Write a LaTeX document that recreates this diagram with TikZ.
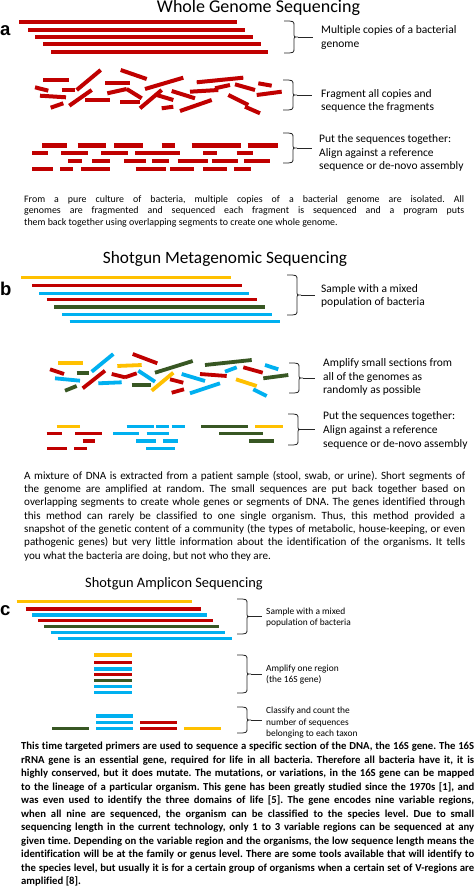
\documentclass[tikz,border=0pt]{standalone}
\usepackage{fontspec}
\setmainfont{Carlito}[Ligatures=NoCommon]
\newfontfamily\labelfont{Liberation Sans}
\definecolor{cred}{HTML}{C00000}
\definecolor{cblue}{HTML}{00B0F0}
\definecolor{cyel}{HTML}{FFC000}
\definecolor{cgrn}{HTML}{385723}
\newcommand{\brc}[4]{%
 \pgfmathsetmacro{\bm}{(#2+#3)/2}%
 \pgfmathsetmacro{\bx}{#1+10}%
 \pgfmathsetmacro{\bt}{#1+14}%
 \draw[bracepen] (#1,#2) .. controls (\bx,#2) .. (\bx,#2+5) -- (\bx,\bm-4) .. controls (\bx,\bm) .. (\bt,\bm) .. controls (\bx,\bm) .. (\bx,\bm+4) -- (\bx,#3-5) .. controls (\bx,#3) .. (#1,#3);%
 \draw[bracepen] (\bt,\bm) -- (#4,\bm);}
\begin{document}
\frenchspacing
\begin{tikzpicture}[x=1pt,y=-1pt,
 rd/.style={draw=cred,line width=#1,line cap=butt}, rd/.default=4pt,
 bl/.style={draw=cblue,line width=#1,line cap=butt}, bl/.default=3.5pt,
 ye/.style={draw=cyel,line width=#1,line cap=butt}, ye/.default=3.5pt,
 gr/.style={draw=cgrn,line width=#1,line cap=butt}, gr/.default=3.5pt,
 bracepen/.style={draw=black!85,line width=0.8pt},
 ttl/.style={font=\fontsize{#1}{#1}\selectfont,anchor=base,inner sep=0pt},
 lbl/.style={font=\labelfont\bfseries\fontsize{18.5}{20}\selectfont,anchor=base west,inner sep=0pt},
 note/.style={font=\fontsize{11.5}{13.8}\selectfont,align=left,anchor=west,inner sep=0pt},
 notec/.style={font=\fontsize{9.4}{11.6}\selectfont,align=left,anchor=west,inner sep=0pt},
 pla/.style={font=\fontsize{9.9}{11.5}\selectfont,anchor=base west,inner sep=0pt},
 plb/.style={font=\fontsize{11.1}{13.3}\selectfont,anchor=base west,inner sep=0pt},
 plc/.style={font=\bfseries\fontsize{10.7}{13.5}\selectfont,anchor=base west,inner sep=0pt}]
\useasboundingbox (0,0) rectangle (474,889);
\fill[white] (0,0) rectangle (474,889);

% ---------------- Panel a ----------------
\node[ttl=18] (ta) at (258.5,12.5) {Whole Genome Sequencing};
\node[lbl] (la) at (0,35) {a};
\draw[rd] (19,21.5) -- (237,21.5);
\draw[rd] (28,30) -- (245,30);
\draw[rd] (35,36.5) -- (253,36.5);
\draw[rd] (43,44) -- (261,44);
\draw[rd] (51,52) -- (268,52);
\brc{284}{21}{53}{313}
\node[note] (na1) at (321,37.5) {Multiple copies of a bacterial\\genome};

\draw[rd] (43.3,80) -- (69.3,80);
\draw[rd] (35,87.3) -- (48.3,90.7);
\draw[rd] (61.7,90) -- (75,90);
\draw[rd] (40,95.7) -- (66,97.3);
\draw[rd] (50.7,107.7) -- (63.3,103.3);
\draw[rd] (76.7,90) -- (100.7,70);
\draw[rd] (69.3,105.7) -- (91.7,90);
\draw[rd] (85,100) -- (110,100);
\draw[rd] (105,83.3) -- (130,83.3);
\draw[rd] (107.3,93.3) -- (126.7,89);
\draw[rd] (126.7,89) -- (141.7,98.3);
\draw[rd] (120.7,70) -- (146.7,79);
\draw[rd] (120,102.3) -- (140,102.3);
\draw[rd] (145,89) -- (183.3,77.7);
\draw[rd] (140,108.3) -- (161.7,90);
\draw[rd] (156.7,95) -- (173.3,100);
\draw[rd] (161.7,108.3) -- (173.3,106.7);
\draw[rd] (171.7,91) -- (195,98.3);
\draw[rd] (180,111) -- (211.7,100);
\draw[rd] (190,91.7) -- (218.3,90);
\draw[rd] (196.7,82.3) -- (243.3,77.7);
\draw[rd] (215,88.3) -- (230,85);
\draw[rd] (228.3,95) -- (248.3,105);
\draw[rd] (245,106.7) -- (260,113.3);
\draw[rd] (235,84.3) -- (255,90);
\draw[rd] (258.3,83.3) -- (271.7,85.7);
\draw[rd] (256.7,95) -- (281.7,91.7);
\brc{283}{80}{110}{312}
\node[note] (na2) at (321,101) {Fragment all copies and\\sequence the fragments};

\foreach \a/\b in {42.3/66.7,77.7/105.7,114.3/143.3,161.7/175,191.7/241,247.7/277.7}
  \draw[rd=4.2pt] (\a,145.5) -- (\b,145.5);
\foreach \a/\b in {32.3/47.7,61/88.3,101/127.7,135/180,203.3/216.7,236.7/253.3}
  \draw[rd=4.2pt] (\a,153) -- (\b,153);
\foreach \a/\b in {68.3/82.3,92.3/110,124.3/145.7,152.3/169,177.7/207.7,211.7/237.7,244.3/270}
  \draw[rd=4.2pt] (\a,161) -- (\b,161);
\foreach \a/\b in {32.3/53.3,60/73.3,81/110,135.7/165.7,170.3/194.3,203.3/226.7,234.3/250.7}
  \draw[rd=4.2pt] (\a,169) -- (\b,169);
\brc{283}{133}{163}{312}
\node[note] (na3) at (319,153) {Put the sequences together:\\Align against a reference\\sequence or de-novo assembly};

\node[pla] (pa1) at (24,202.3) {\makebox[440pt][s]{From a pure culture of bacteria, multiple copies of a bacterial genome are isolated. All}};
\node[pla] (pa2) at (24,213.8) {\makebox[440pt][s]{genomes are fragmented and sequenced each fragment is sequenced and a program puts}};
\node[pla] (pa3) at (24,225.3) {them back together using overlapping segments to create one whole genome.};

% ---------------- Panel b ----------------
\node[ttl=17.3] (tb) at (225,263) {Shotgun Metagenomic Sequencing};
\node[lbl] (lb) at (0,295) {b};
\draw[ye] (21,277.3) -- (231,277.3);
\draw[rd=3.5pt] (32,285.7) -- (242,285.7);
\draw[bl] (39.3,293.3) -- (249.3,293.3);
\draw[rd=3.5pt] (46.7,299.7) -- (257.3,299.7);
\draw[gr] (54.3,307) -- (265,307);
\draw[bl] (62.3,314.7) -- (272.3,314.7);
\draw[bl] (69.7,321.7) -- (280,321.7);
\brc{287}{275}{315}{315}
\node[note] (nb1) at (321,296) {Sample with a mixed\\population of bacteria};

\draw[ye=3.8pt] (58.3,363.3) -- (82.7,363.3);
\draw[rd=3.8pt] (50,369.3) -- (64,374);
\draw[gr=3.8pt] (76.7,373.3) -- (89.3,373.3);
\draw[bl=3.8pt] (55,378.3) -- (80,380.7);
\draw[gr=3.8pt] (65,390.7) -- (76.7,386);
\draw[bl=3.8pt] (91.7,371.7) -- (113.3,354);
\draw[rd=3.8pt] (82.7,388.3) -- (105,370.7);
\draw[bl=3.8pt] (98.3,383.3) -- (121.7,382.3);
\draw[ye=3.8pt] (117.3,366) -- (141.7,365);
\draw[rd=3.8pt] (111.7,374) -- (125,377.3);
\draw[rd=3.8pt] (125,377.3) -- (136.7,373.3);
\draw[rd=3.8pt] (132.7,354) -- (157.3,363.3);
\draw[bl=3.8pt] (138.3,370.7) -- (155,381.7);
\draw[gr=3.8pt] (131.7,385) -- (150.7,385);
\draw[ye=3.8pt] (151.7,390.7) -- (173.3,372.7);
\draw[gr=3.8pt] (155,372.7) -- (192.7,361);
\draw[rd=3.8pt] (170,379.3) -- (183.3,382.7);
\draw[rd=3.8pt] (171.7,392.7) -- (184,389.3);
\draw[bl=3.8pt] (181.7,374) -- (205,381);
\draw[bl=3.8pt] (190,393.3) -- (220,383.3);
\draw[rd=3.8pt] (200,374) -- (226.7,376);
\draw[gr=3.8pt] (205,365) -- (251.7,360);
\draw[bl=3.8pt] (225,371.7) -- (236.7,367.3);
\draw[rd=3.8pt] (243.3,367.3) -- (262.7,372.7);
\draw[ye=3.8pt] (236,379.3) -- (256.7,386);
\draw[bl=3.8pt] (253.3,389.3) -- (266.7,396);
\draw[bl=3.8pt] (265,365) -- (278.3,369.3);
\draw[gr=3.8pt] (263.3,378.3) -- (288.3,375);
\brc{289}{363}{393}{315}
\node[note] (nb2) at (323,377) {Amplify small sections from\\all of the genomes as\\randomly as possible};

\draw[ye=3.3pt] (56.7,426.3) -- (80,426.3);
\draw[bl=3.3pt] (126.7,426.3) -- (154,426.3);
\draw[bl=3.3pt] (156,426.3) -- (169.3,426.3);
\draw[bl=3.3pt] (171.7,426.3) -- (185,426.3);
\draw[gr=3.3pt] (201,426.3) -- (248.3,426.3);
\draw[ye=3.3pt] (255,426.3) -- (283.3,426.3);
\draw[rd=3.3pt] (46.7,433.7) -- (61.7,433.7);
\draw[rd=3.3pt] (75,433.7) -- (101.7,433.7);
\draw[bl=3.3pt] (113.3,433.7) -- (139.3,433.7);
\draw[bl=3.3pt] (146.7,433.7) -- (169.3,433.7);
\draw[gr=3.3pt] (219.3,433.7) -- (262.7,433.7);
\draw[rd=3.3pt] (82.7,441) -- (95,441);
\draw[bl=3.3pt] (136,441) -- (156,441);
\draw[bl=3.3pt] (163.3,441) -- (178.3,441);
\draw[gr=3.3pt] (249.3,441) -- (274,441);
\draw[rd=3.3pt] (47.3,448.7) -- (67.3,448.7);
\draw[rd=3.3pt] (74,448.7) -- (86.7,448.7);
\draw[bl=3.3pt] (146,448.7) -- (175,448.7);
\brc{288}{414}{445}{315}
\node[note] (nb3) at (323,430.7) {Put the sequences together:\\Align against a reference\\sequence or de-novo assembly};

\node[plb] (pb1) at (24,479.3) {\makebox[441pt][s]{A mixture of DNA is extracted from a patient sample (stool, swab, or urine). Short segments of}};
\node[plb] (pb2) at (24,492.6) {\makebox[441pt][s]{the genome are amplified at random. The small sequences are put back together based on}};
\node[plb] (pb3) at (24,505.9) {\makebox[441pt][s]{overlapping segments to create whole genes or segments of DNA. The genes identified through}};
\node[plb] (pb4) at (24,519.3) {\makebox[441pt][s]{this method can rarely be classified to one single organism. Thus, this method provided a}};
\node[plb] (pb5) at (24,532.6) {\makebox[441pt][s]{snapshot of the genetic content of a community (the types of metabolic, house-keeping, or even}};
\node[plb] (pb6) at (24,545.9) {\makebox[441pt][s]{pathogenic genes) but very little information about the identification of the organisms. It tells}};
\node[plb] (pb7) at (24,559.3) {you what the bacteria are doing, but not who they are.};

% ---------------- Panel c ----------------
\node[ttl=14.4] (tc) at (174,587) {Shotgun Amplicon Sequencing};
\node[lbl] (lc) at (0,615) {c};
\draw[ye=3.3pt] (16.7,601.7) -- (191.7,601.7);
\draw[rd=3.3pt] (25.7,609) -- (200.7,609);
\draw[bl=3.3pt] (32,615) -- (206.7,615);
\draw[rd=3.3pt] (38.3,620.7) -- (213.3,620.7);
\draw[gr=3.3pt] (44.3,626.7) -- (219.3,626.7);
\draw[bl=3.3pt] (50.7,632.7) -- (225.3,632.7);
\draw[bl=3.3pt] (57.7,638.7) -- (232.3,638.7);
\brc{237}{599}{634}{262}
\node[notec] (nc1) at (266,617.5) {Sample with a mixed\\population of bacteria};

\draw[ye=3.3pt] (94.3,655) -- (131.7,655);
\draw[rd=3.3pt] (94.3,662.3) -- (131.7,662.3);
\draw[bl=3.3pt] (94.3,669) -- (131.7,669);
\draw[rd=3.3pt] (94.3,674.3) -- (131.7,674.3);
\draw[gr=3.3pt] (94.3,680.3) -- (131.7,680.3);
\draw[bl=3.3pt] (94.3,686.7) -- (131.7,686.7);
\draw[bl=3.3pt] (94.3,692.7) -- (131.7,692.7);
\brc{237}{655}{693}{262}
\node[notec] (nc2) at (266,674.7) {Amplify one region\\(the 16S gene)};

\draw[gr=3.3pt] (52.3,728.3) -- (89.3,728.3);
\draw[bl=3.3pt] (96,716) -- (133.3,716);
\draw[bl=3.3pt] (96,722.3) -- (133.3,722.3);
\draw[bl=3.3pt] (96,728.7) -- (133.3,728.7);
\draw[rd=3.3pt] (140,722.3) -- (176.7,722.3);
\draw[rd=3.3pt] (140,728.7) -- (176.7,728.7);
\draw[ye=3.3pt] (184.3,728.3) -- (221,728.3);
\brc{237}{707}{733}{262}
\node[notec] (nc3) at (266,722.8) {Classify and count the\\number of sequences\\belonging to each taxon};

\node[plc] (pc1) at (21,749.8) {\makebox[453pt][s]{This time targeted primers are used to sequence a specific section of the DNA, the 16S gene. The 16S}};
\node[plc] (pc2) at (21,763.3) {\makebox[453pt][s]{rRNA gene is an essential gene, required for life in all bacteria. Therefore all bacteria have it, it is}};
\node[plc] (pc3) at (21,776.8) {\makebox[453pt][s]{highly conserved, but it does mutate. The mutations, or variations, in the 16S gene can be mapped}};
\node[plc] (pc4) at (21,790.3) {\makebox[453pt][s]{to the lineage of a particular organism. This gene has been greatly studied since the 1970s [1], and}};
\node[plc] (pc5) at (21,803.8) {\makebox[453pt][s]{was even used to identify the three domains of life [5]. The gene encodes nine variable regions,}};
\node[plc] (pc6) at (21,817.3) {\makebox[453pt][s]{when all nine are sequenced, the organism can be classified to the species level. Due to small}};
\node[plc] (pc7) at (21,830.8) {\makebox[453pt][s]{sequencing length in the current technology, only 1 to 3 variable regions can be sequenced at any}};
\node[plc] (pc8) at (21,844.3) {\makebox[453pt][s]{given time. Depending on the variable region and the organisms, the low sequence length means the}};
\node[plc] (pc9) at (21,857.8) {\makebox[453pt][s]{identification will be at the family or genus level. There are some tools available that will identify to}};
\node[plc] (pc10) at (21,871.3) {\makebox[453pt][s]{the species level, but usually it is for a certain group of organisms when a certain set of V-regions are}};
\node[plc] (pc11) at (21,884.8) {amplified [8].};
\end{tikzpicture}
\end{document}
